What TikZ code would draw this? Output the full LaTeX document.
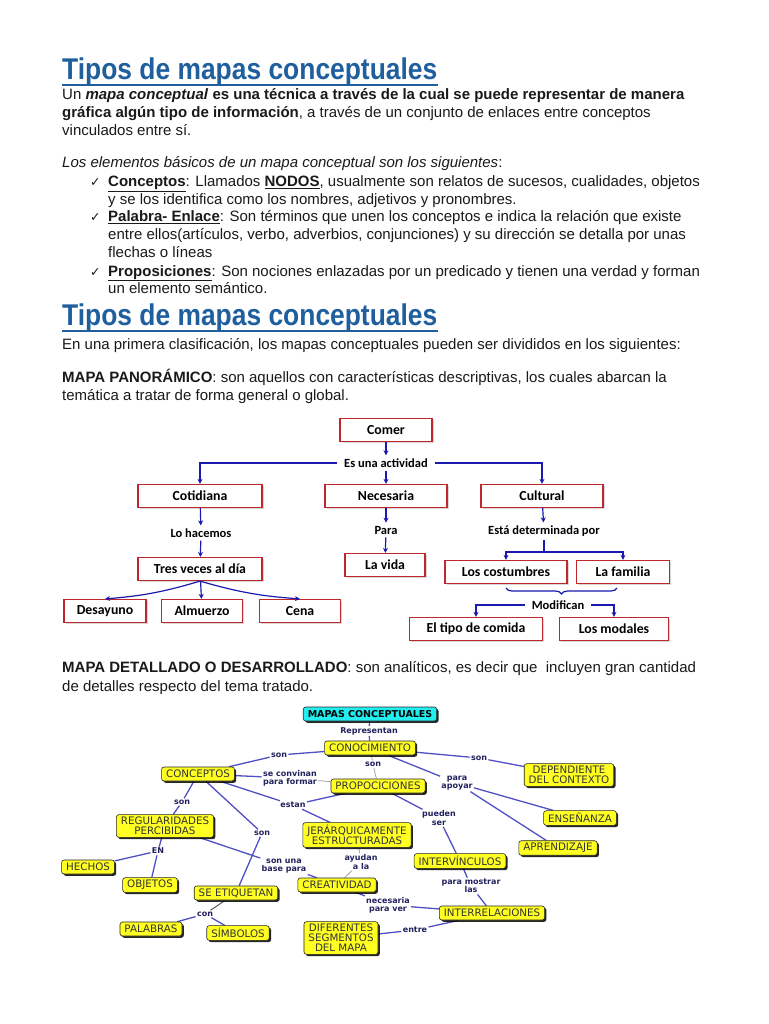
\documentclass[tikz,border=0pt]{standalone}
\usepackage{fontspec}
\setmainfont{Liberation Sans}
\newfontfamily\titlef[FakeStretch=0.88]{Liberation Sans}
\newfontfamily\calf{Carlito}
\newfontfamily\verd{DejaVu Sans}
\usetikzlibrary{arrows.meta,shadows,decorations.pathreplacing}
\definecolor{titleblue}{HTML}{1F5F9E}
\definecolor{txt}{HTML}{1A1A1A}
\definecolor{boxred}{HTML}{C0272D}
\definecolor{arrblue}{HTML}{1A1AB0}
\definecolor{ylw}{HTML}{FFFF22}
\definecolor{cyn}{HTML}{22EEF0}
\definecolor{lnk}{HTML}{5050C4}
\definecolor{lbltxt}{HTML}{22225E}
\definecolor{ntxt}{HTML}{333333}
\pgfdeclarelayer{bg}
\pgfdeclarelayer{paper}
\pgfsetlayers{paper,bg,main}
\begin{document}
\begin{tikzpicture}[x=1pt,y=-1pt,
  ttl/.style={anchor=base west, inner sep=0pt, text=titleblue, font=\titlef\bfseries\fontsize{30}{30}\selectfont},
  body/.style={anchor=base west, inner sep=0pt, text=txt, font=\fontsize{15}{18}\selectfont},
  chk/.style={anchor=base west, inner sep=0pt, text=txt, font=\verd\fontsize{12.5}{12.5}\selectfont},
  rbox/.style={draw=boxred, line width=1.2pt, fill=white, minimum height=23pt, inner sep=0pt,
    font=\calf\bfseries\fontsize{13.8}{13.8}\selectfont, text=black,
    drop shadow={opacity=0.3, shadow xshift=1.5pt, shadow yshift=-1.5pt}},
  rlbl/.style={inner xsep=7pt, inner ysep=3pt, font=\calf\bfseries\fontsize{12.5}{12.5}\selectfont, text=black},
  arr/.style={draw=arrblue, line width=1.2pt, -{Stealth[length=5pt,width=5pt]}},
  ln/.style={draw=arrblue, line width=1.2pt},
  ybox/.style={fill=ylw, draw=black!85, line width=0.6pt, rounded corners=2.5pt, inner xsep=4.5pt, inner ysep=2.5pt,
    font=\verd\fontsize{10.3}{10}\selectfont, text=ntxt, align=center, minimum height=14pt,
    drop shadow={fill=black, opacity=0.85, shadow xshift=1.8pt, shadow yshift=-1.8pt}},
  lbl/.style={inner sep=1.2pt, font=\verd\bfseries\fontsize{8}{8.3}\selectfont, text=lbltxt, align=center},
  lk/.style={draw=lnk, line width=1.3pt},
  gk/.style={draw=gray!70, line width=0.8pt},
]
\useasboundingbox (0,0) rectangle (768,1024);
\begin{pgfonlayer}{paper}
\fill[white] (0,0) rectangle (768,1024);
\end{pgfonlayer}

% ---------- Text part ----------
\node[ttl] (t1) at (62,80) {Tipos de mapas conceptuales};
\draw[titleblue, line width=2pt] (t1.base west) ++(0,5.5) coordinate (u1a) -- (u1a -| t1.east);
\node[body] (l1) at (62,100) {Un \textbf{\textit{mapa conceptual}} \textbf{es una técnica a través de la cual se puede representar de manera}};
\node[body] (l2) at (62,118) {\textbf{gráfica algún tipo de información}, a través de un conjunto de enlaces entre conceptos};
\node[body] (l3) at (62,136) {vinculados entre sí.};
\node[body] (l4) at (62,168) {\textit{Los elementos básicos de un mapa conceptual son los siguientes}:};
\node[chk] (c1) at (90,187) {✓};
\node[body] (l5) at (108,187) {\textbf{\underline{Conceptos}}: Llamados \textbf{\underline{NODOS}}, usualmente son relatos de sucesos, cualidades, objetos};
\node[body] (l6) at (108,205) {y se los identifica como los nombres, adjetivos y pronombres.};
\node[chk] (c2) at (90,222) {✓};
\node[body] (l7) at (108,222) {\textbf{\underline{Palabra- Enlace}}: Son términos que unen los conceptos e indica la relación que existe};
\node[body] (l8) at (108,240) {entre ellos(artículos, verbo, adverbios, conjunciones) y su dirección se detalla por unas};
\node[body] (l9) at (108,258) {flechas o líneas};
\node[chk] (c3) at (90,276) {✓};
\node[body] (l10) at (108,276) {\textbf{\underline{Proposiciones}}: Son nociones enlazadas por un predicado y tienen una verdad y forman};
\node[body] (l11) at (108,293) {un elemento semántico.};
\node[ttl] (t2) at (62,325) {Tipos de mapas conceptuales};
\draw[titleblue, line width=2pt] (t2.base west) ++(0,5.5) coordinate (u2a) -- (u2a -| t2.east);
\node[body] (l12) at (62,349) {En una primera clasificación, los mapas conceptuales pueden ser divididos en los siguientes:};
\node[body] (l13) at (62,382) {\textbf{MAPA PANORÁMICO}: son aquellos con características descriptivas, los cuales abarcan la};
\node[body] (l14) at (62,400) {temática a tratar de forma general o global.};
\node[body] (l15) at (62,672) {\textbf{MAPA DETALLADO O DESARROLLADO}: son analíticos, es decir que\ \ incluyen gran cantidad};
\node[body] (l16) at (62,691) {de detalles respecto del tema tratado.};

% ---------- Diagram 1 ----------
\node[rbox, minimum width=92pt] (comer) at (386,430) {Comer};
\node[rlbl] (esuna) at (386,463) {Es una actividad};
\node[rbox, minimum width=124pt] (coti) at (200,496) {Cotidiana};
\node[rbox, minimum width=122pt] (nece) at (386,496) {Necesaria};
\node[rbox, minimum width=122pt] (cult) at (542,496) {Cultural};
\node[rlbl] (lohac) at (201,533) {Lo hacemos};
\node[rbox, minimum width=124pt] (tres) at (200,569) {Tres veces al día};
\node[rbox, minimum width=82pt] (desa) at (105,611) {Desayuno};
\node[rbox, minimum width=81pt] (almu) at (202,611) {Almuerzo};
\node[rbox, minimum width=81pt] (cena) at (300,611) {Cena};
\node[rlbl] (para) at (386,530) {Para};
\node[rbox, minimum width=80pt] (vida) at (385,565) {La vida};
\node[rlbl] (esta) at (544,531) {Está determinada por};
\node[rbox, minimum width=122pt] (cost) at (506,572) {Los costumbres};
\node[rbox, minimum width=93pt] (fam) at (623,572) {La familia};
\node[rlbl] (modi) at (558,605) {Modifican};
\node[rbox, minimum width=133pt] (tipo) at (476,629) {El tipo de comida};
\node[rbox, minimum width=109pt] (moda) at (614,629) {Los modales};
\coordinate (ej) at (544,552);
\coordinate (b1) at (506,588);
\coordinate (b2) at (617,588);

\draw[arr] (comer) -- (esuna);
\draw[arr] (esuna.west) -| (coti.north);
\draw[arr] (esuna.east) -| (cult.north);
\draw[arr] (esuna) -- (nece);
\draw[arr] (coti) -- (lohac);
\draw[arr] (lohac) -- (tres);
\draw[arr] (tres.south) to[bend left=6] (desa.north);
\draw[arr] (tres) -- (almu);
\draw[arr] (tres.south) to[bend right=6] (cena.north);
\draw[arr] (nece) -- (para);
\draw[arr] (para) -- (vida);
\draw[arr] (cult) -- (esta);
\draw[ln] (esta) -- (ej);
\draw[arr] (ej) -| (cost.north);
\draw[arr] (ej) -| (fam.north);
\draw[ln, decorate, decoration={brace, amplitude=6pt, mirror}] (b1) -- (b2);
\draw[arr] (modi.west) -| (tipo.north);
\draw[arr] (modi.east) -| (moda.north);

% ---------- Diagram 2 ----------
\node[ybox, fill=cyn, text=black, font=\verd\bfseries\fontsize{9.5}{10}\selectfont] (m) at (370,714) {MAPAS CONCEPTUALES};
\node[lbl] (rep) at (369,731) {Representan};
\node[ybox] (cono) at (370,748) {CONOCIMIENTO};
\node[lbl] (son1) at (279,755) {son};
\node[ybox] (conc) at (198,774) {CONCEPTOS};
\node[lbl] (scp) at (290,778) {se convinan\\para formar};
\node[lbl] (son2) at (373,764) {son};
\node[ybox] (prop) at (378,786) {PROPOCICIONES};
\node[lbl] (son3) at (479,758) {son};
\node[ybox] (dep) at (569,775) {DEPENDIENTE\\DEL CONTEXTO};
\node[lbl] (pa) at (457,783) {para\\apoyar};
\node[lbl] (est) at (293,805) {estan};
\node[lbl] (son4) at (182,802) {son};
\node[ybox] (reg) at (165,826) {REGULARIDADES\\PERCIBIDAS};
\node[lbl] (son5) at (262,833) {son};
\node[ybox] (jer) at (357,835) {JERÁRQUICAMENTE\\ESTRUCTURADAS};
\node[lbl] (ps) at (439,818) {pueden\\ser};
\node[ybox] (ens) at (580,818) {ENSEÑANZA};
\node[ybox] (apr) at (558,848) {APRENDIZAJE};
\node[lbl] (en) at (158,851) {EN};
\node[ybox] (hec) at (88,867) {HECHOS};
\node[lbl] (sub) at (284,866) {son una\\base para};
\node[lbl] (ayu) at (361,862) {ayudan\\a la};
\node[ybox] (intv) at (460,861) {INTERVÍNCULOS};
\node[ybox] (obj) at (150,885) {OBJETOS};
\node[ybox] (set) at (236,893) {SE ETIQUETAN};
\node[ybox] (cre) at (337,885) {CREATIVIDAD};
\node[lbl] (pml) at (471,886) {para mostrar\\las};
\node[lbl] (npv) at (388,905) {necesaria\\para ver};
\node[ybox] (intr) at (492,913) {INTERRELACIONES};
\node[lbl] (con) at (205,914) {con};
\node[ybox] (pal) at (151,929) {PALABRAS};
\node[ybox] (sim) at (238,933) {SÍMBOLOS};
\node[ybox] (dif) at (341,938) {DIFERENTES\\SEGMENTOS\\DEL MAPA};
\node[lbl] (ent) at (415,930) {entre};

\begin{pgfonlayer}{bg}
\draw[lk] (m) -- (rep) -- (cono);
\draw[lk] (cono) -- (son1) -- (conc);
\draw[gk] (cono) -- (son2) -- (prop);
\draw[lk] (cono) -- (son3) -- (dep);
\draw[lk] (cono) -- (pa);
\draw[lk] (pa) -- (ens);
\draw[lk] (pa) -- (apr);
\draw[lk] (conc) -- (scp);
\draw[gk] (scp) -- (prop);
\draw[lk] (conc) -- (est) -- (jer);
\draw[lk] (prop) -- (est);
\draw[lk] (conc) -- (son4) -- (reg);
\draw[lk] (conc) -- (son5) -- (set);
\draw[lk] (reg) -- (en);
\draw[lk] (en) -- (hec);
\draw[lk] (en) -- (obj);
\draw[lk] (reg) -- (sub) -- (cre);
\draw[gk] (jer) -- (ayu) -- (cre);
\draw[lk] (prop) -- (ps) -- (intv);
\draw[lk] (intv) -- (pml) -- (intr);
\draw[lk] (cre) -- (npv) -- (intr);
\draw[lk] (intr) -- (ent) -- (dif);
\draw[draw=black!70, line width=0.9pt] (set) -- (con);
\draw[lk] (con) -- (pal);
\draw[lk] (con) -- (sim);
\end{pgfonlayer}
\end{tikzpicture}
\end{document}
